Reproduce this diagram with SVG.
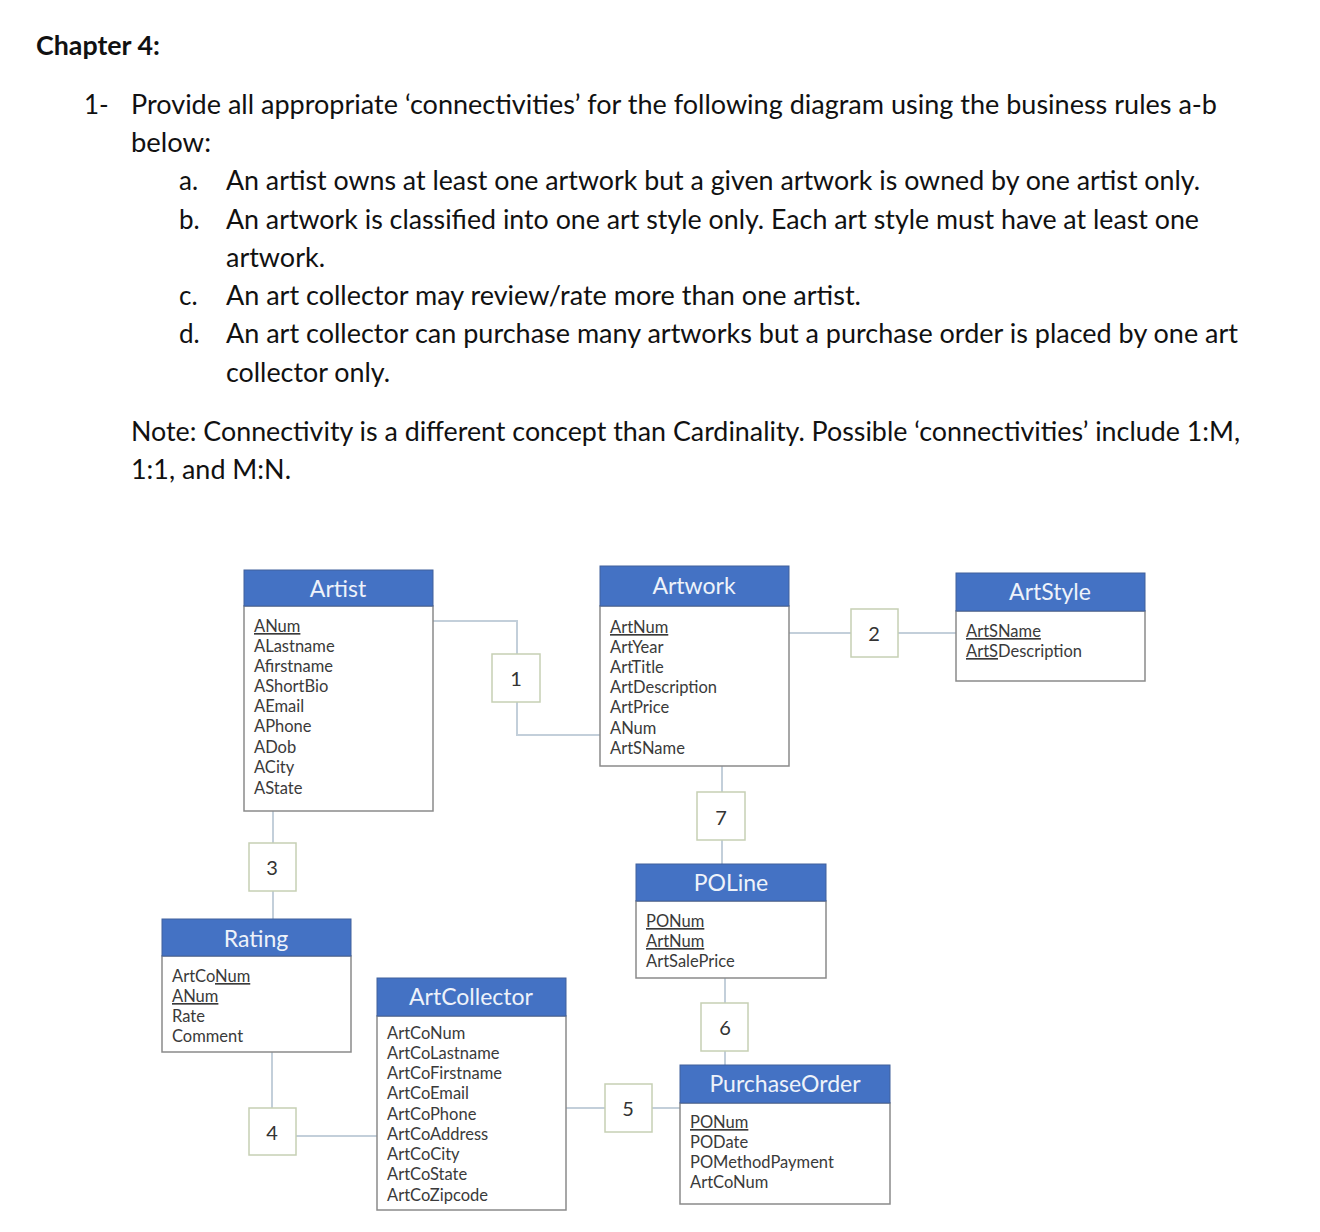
<svg xmlns="http://www.w3.org/2000/svg" width="1320" height="1232" viewBox="0 0 1320 1232">
<style>
.doc{font-family:Lato,"Open Sans","Liberation Sans",sans-serif;font-size:26px;fill:#111}
.bold{font-weight:bold}
.hdr{fill:#4472C4;stroke:#41619c;stroke-width:1}
.body{fill:#fff;stroke:#8a8a8a;stroke-width:1.5}
.ttl{font-family:Lato,"Open Sans","Liberation Sans",sans-serif;font-size:23px;fill:#eef2fa;text-anchor:middle}
.att{font-family:Lato,"Open Sans","Liberation Sans",sans-serif;font-size:16.5px;fill:#3a3a3a}
.u{text-decoration:underline}
.lbl{fill:#fff;stroke:#c6d0b4;stroke-width:1.5}
.num{font-family:Lato,"Open Sans","Liberation Sans",sans-serif;font-size:20px;fill:#333;text-anchor:middle}
.con{fill:none;stroke:#c3cfda;stroke-width:2}
</style>
<rect width="1320" height="1232" fill="#fff"/>
<g id="text">
<text class="doc bold" x="36" y="55" textLength="124" lengthAdjust="spacingAndGlyphs">Chapter 4:</text>
<text class="doc" x="84" y="114">1-</text>
<text class="doc" x="131" y="114" textLength="1086" lengthAdjust="spacingAndGlyphs">Provide all appropriate ‘connectivities’ for the following diagram using the business rules a-b</text>
<text class="doc" x="131" y="152" textLength="80" lengthAdjust="spacingAndGlyphs">below:</text>
<text class="doc" x="179" y="190">a.</text>
<text class="doc" x="226" y="190" textLength="974" lengthAdjust="spacingAndGlyphs">An artist owns at least one artwork but a given artwork is owned by one artist only.</text>
<text class="doc" x="179" y="229">b.</text>
<text class="doc" x="226" y="229" textLength="973" lengthAdjust="spacingAndGlyphs">An artwork is classified into one art style only. Each art style must have at least one</text>
<text class="doc" x="226" y="267" textLength="99" lengthAdjust="spacingAndGlyphs">artwork.</text>
<text class="doc" x="179" y="305">c.</text>
<text class="doc" x="226" y="305" textLength="635" lengthAdjust="spacingAndGlyphs">An art collector may review/rate more than one artist.</text>
<text class="doc" x="179" y="343">d.</text>
<text class="doc" x="226" y="343" textLength="1012" lengthAdjust="spacingAndGlyphs">An art collector can purchase many artworks but a purchase order is placed by one art</text>
<text class="doc" x="226" y="382" textLength="164" lengthAdjust="spacingAndGlyphs">collector only.</text>
<text class="doc" x="131" y="441" textLength="1109" lengthAdjust="spacingAndGlyphs">Note: Connectivity is a different concept than Cardinality. Possible ‘connectivities’ include 1:M,</text>
<text class="doc" x="131" y="479" textLength="160" lengthAdjust="spacingAndGlyphs">1:1, and M:N.</text>
</g>
<g id="connectors">
<polyline class="con" points="433,621 517,621 517,654"/>
<polyline class="con" points="517,702 517,735 600,735"/>
<line class="con" x1="789" y1="633" x2="851" y2="633"/>
<line class="con" x1="898" y1="633" x2="956" y2="633"/>
<line class="con" x1="273" y1="811" x2="273" y2="843"/>
<line class="con" x1="273" y1="891" x2="273" y2="919"/>
<line class="con" x1="272" y1="1052" x2="272" y2="1108"/>
<line class="con" x1="296" y1="1136" x2="377" y2="1136"/>
<line class="con" x1="566" y1="1108" x2="605" y2="1108"/>
<line class="con" x1="652" y1="1108" x2="680" y2="1108"/>
<line class="con" x1="725" y1="978" x2="725" y2="1003"/>
<line class="con" x1="725" y1="1051" x2="725" y2="1065"/>
<line class="con" x1="722" y1="766" x2="722" y2="792"/>
<line class="con" x1="722" y1="840" x2="722" y2="864"/>
</g>
<g id="labels">
<g id="lbl1"><rect class="lbl" x="492" y="654" width="48" height="48"/><text class="num" x="516" y="686">1</text></g>
<g id="lbl2"><rect class="lbl" x="851" y="609" width="47" height="48"/><text class="num" x="874" y="641">2</text></g>
<g id="lbl3"><rect class="lbl" x="249" y="843" width="47" height="48"/><text class="num" x="272" y="875">3</text></g>
<g id="lbl4"><rect class="lbl" x="249" y="1108" width="47" height="47"/><text class="num" x="272" y="1140">4</text></g>
<g id="lbl5"><rect class="lbl" x="605" y="1084" width="47" height="48"/><text class="num" x="628" y="1116">5</text></g>
<g id="lbl6"><rect class="lbl" x="701" y="1003" width="47" height="48"/><text class="num" x="725" y="1035">6</text></g>
<g id="lbl7"><rect class="lbl" x="697" y="792" width="48" height="48"/><text class="num" x="721" y="825">7</text></g>
</g>
<g id="Artist">
<rect class="body" x="244" y="606" width="189" height="205"/>
<rect class="hdr" x="244" y="570" width="189" height="36"/>
<text class="ttl" x="338" y="597">Artist</text>
<text class="att" x="254" y="632"><tspan class="u">ANum</tspan></text>
<text class="att" x="254" y="652">ALastname</text>
<text class="att" x="254" y="672">Afirstname</text>
<text class="att" x="254" y="692">AShortBio</text>
<text class="att" x="254" y="712">AEmail</text>
<text class="att" x="254" y="732">APhone</text>
<text class="att" x="254" y="753">ADob</text>
<text class="att" x="254" y="773">ACity</text>
<text class="att" x="254" y="794">AState</text>
</g>
<g id="Artwork">
<rect class="body" x="600" y="606" width="189" height="160"/>
<rect class="hdr" x="600" y="566" width="189" height="40"/>
<text class="ttl" x="694" y="594">Artwork</text>
<text class="att" x="610" y="633"><tspan class="u">ArtNum</tspan></text>
<text class="att" x="610" y="653">ArtYear</text>
<text class="att" x="610" y="673">ArtTitle</text>
<text class="att" x="610" y="693">ArtDescription</text>
<text class="att" x="610" y="713">ArtPrice</text>
<text class="att" x="610" y="734">ANum</text>
<text class="att" x="610" y="754">ArtSName</text>
</g>
<g id="ArtStyle">
<rect class="body" x="956" y="611" width="189" height="70"/>
<rect class="hdr" x="956" y="573" width="189" height="38"/>
<text class="ttl" x="1050" y="600">ArtStyle</text>
<text class="att" x="966" y="637"><tspan class="u">ArtSName</tspan></text>
<text class="att" x="966" y="657"><tspan class="u">ArtS</tspan>Description</text>
</g>
<g id="Rating">
<rect class="body" x="162" y="956" width="189" height="96"/>
<rect class="hdr" x="162" y="919" width="189" height="37"/>
<text class="ttl" x="256" y="947">Rating</text>
<text class="att" x="172" y="982">ArtCo<tspan class="u">Num</tspan></text>
<text class="att" x="172" y="1002"><tspan class="u">ANum</tspan></text>
<text class="att" x="172" y="1022">Rate</text>
<text class="att" x="172" y="1042">Comment</text>
</g>
<g id="ArtCollector">
<rect class="body" x="377" y="1016" width="189" height="194"/>
<rect class="hdr" x="377" y="978" width="189" height="38"/>
<text class="ttl" x="471" y="1005">ArtCollector</text>
<text class="att" x="387" y="1039">ArtCoNum</text>
<text class="att" x="387" y="1059">ArtCoLastname</text>
<text class="att" x="387" y="1079">ArtCoFirstname</text>
<text class="att" x="387" y="1099">ArtCoEmail</text>
<text class="att" x="387" y="1120">ArtCoPhone</text>
<text class="att" x="387" y="1140">ArtCoAddress</text>
<text class="att" x="387" y="1160">ArtCoCity</text>
<text class="att" x="387" y="1180">ArtCoState</text>
<text class="att" x="387" y="1201">ArtCoZipcode</text>
</g>
<g id="POLine">
<rect class="body" x="636" y="901" width="190" height="77"/>
<rect class="hdr" x="636" y="864" width="190" height="37"/>
<text class="ttl" x="731" y="891">POLine</text>
<text class="att" x="646" y="927"><tspan class="u">PONum</tspan></text>
<text class="att" x="646" y="947"><tspan class="u">ArtNum</tspan></text>
<text class="att" x="646" y="967">ArtSalePrice</text>
</g>
<g id="PurchaseOrder">
<rect class="body" x="680" y="1103" width="210" height="101"/>
<rect class="hdr" x="680" y="1065" width="210" height="38"/>
<text class="ttl" x="785" y="1092">PurchaseOrder</text>
<text class="att" x="690" y="1128"><tspan class="u">PONum</tspan></text>
<text class="att" x="690" y="1148">PODate</text>
<text class="att" x="690" y="1168">POMethodPayment</text>
<text class="att" x="690" y="1188">ArtCoNum</text>
</g>
</svg>
